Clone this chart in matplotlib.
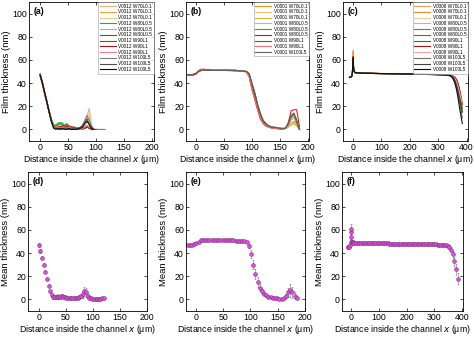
import numpy as np
import matplotlib
matplotlib.use("Agg")
import matplotlib.pyplot as plt

plt.rcParams['font.family'] = ['Liberation Sans', 'DejaVu Sans']
nan = np.nan

# ---------------- panel (a) ----------------
xa = [0, 4, 8, 12, 16, 20, 24, 28, 32, 36, 40, 44, 48, 52, 56, 60, 64, 68, 72, 76, 80, 84, 88, 92, 96, 100, 108, 116]
labels_a = ["V0012 W70L0.1", "V0012 W70L0.1", "V0012 W70L0.1",
            "V0012 W80L0.5", "V0012 W80L0.5", "V0012 W80L0.5",
            "V0012 W90L1", "V0012 W90L1", "V0012 W90L1",
            "V0012 W100L5", "V0012 W100L5", "V0012 W100L5"]
colors_a = ['#e8b27a', '#f0a040', '#f5c890', '#3aa03a', '#7ccc7c', '#1e7a3a',
            '#e02020', '#a01818', '#f08080', '#808080', '#505050', '#101010']
ya = [
    [47, 40, 32, 24, 16, 9, 3, 1, 2, 1, 3, 2, 1, 2, 1, 0, 1, 0, 1, 2, 6, 12, 18, 4, 0, 0, nan, nan],
    [48, 41, 33, 25, 17, 9, 4, 2, 3, 2, 2, 3, 2, 1, 2, 1, 0, 1, 2, 1, 3, 8, 10, 2, 0, 0, nan, nan],
    [46, 39, 31, 23, 15, 8, 3, 2, 1, 2, 1, 2, 1, 1, 0, 1, 1, 0, 0, 1, 4, 9, 14, 3, 0, nan, nan, nan],
    [47, 40, 32, 24, 16, 9, 4, 3, 5, 6, 5, 4, 5, 3, 2, 2, 1, 1, 1, 1, 2, 3, 2, 1, 0, nan, nan, nan],
    [46, 40, 31, 23, 16, 8, 4, 4, 6, 5, 6, 4, 3, 3, 2, 1, 2, 1, 0, 1, 1, 2, 1, 0, 0, nan, nan, nan],
    [47, 39, 31, 24, 15, 8, 3, 3, 4, 5, 4, 3, 4, 2, 2, 1, 1, 0, 1, 0, 1, 2, 1, 0, nan, nan, nan, nan],
    [48, 41, 32, 24, 16, 8, 2, 1, 2, 3, 2, 3, 2, 3, 2, 2, 1, 1, 2, 1, 2, 3, 2, 1, 0, nan, nan, nan],
    [47, 40, 31, 23, 15, 7, 2, 1, 1, 2, 3, 2, 2, 1, 2, 1, 1, 0, 1, 2, 1, 2, 1, 0, nan, nan, nan, nan],
    [46, 39, 31, 23, 15, 7, 2, 2, 2, 1, 2, 2, 1, 2, 1, 1, 0, 1, 0, 1, 2, 3, 2, 1, 0, nan, nan, nan],
    [47, 40, 32, 24, 16, 8, 2, 1, 1, 0, 1, 1, 0, 1, 0, 0, 1, 0, 2, 4, 8, 12, 8, 3, 0, 0, 0, 0],
    [46, 40, 31, 23, 15, 8, 2, 1, 0, 1, 0, 1, 1, 0, 0, 1, 0, 0, 1, 3, 6, 9, 5, 1, 0, 0, nan, nan],
    [47, 40, 32, 24, 15, 7, 1, 0, 1, 0, 1, 0, 0, 1, 0, 0, 0, 1, 1, 2, 5, 7, 4, 1, 0, nan, nan, nan],
]

# ---------------- panel (b) ----------------
xb = [-15, -10, -5, 0, 5, 10, 15, 20, 30, 40, 50, 60, 70, 80, 90, 95, 100, 105, 110, 115, 120,
      125, 130, 135, 140, 145, 150, 155, 160, 165, 170, 175, 180, 185]
labels_b = ["V0001 W70L0.1", "V0001 W70L0.1", "V0001 W70L0.1",
            "V0001 W80L0.5", "V0001 W80L0.5", "V0001 W80L0.5",
            "V0001 W90L1", "V0001 W90L1", "V0001 W100L5"]
colors_b = ['#e89020', '#f5c070', '#e8b040', '#90d090', '#40a040', '#1a6a2a',
            '#e02020', '#f07070', '#606060']
yb = [
    [47, 47, 47, 48, 50, 51, 51.5, 51, 51, 51, 51, 51, 51, 50.5, 50, 47, 37, 29, 19, 11, 6, 4, 3, 2, 1.5, 1, 1, 0.5, 1, 2, 5, 7, 4, 0],
    [47, 47, 47.5, 48, 50.5, 51.5, 51.5, 51, 51, 51, 51, 51, 50.5, 50.5, 49.5, 46, 35, 27, 18, 10, 6, 3, 2, 1.5, 1, 1, 0.5, 0.5, 1, 2, 4, 6, 3, 0],
    [46.5, 46.5, 47, 47.5, 50, 51, 51, 51, 51, 51, 51, 50.5, 50.5, 50.5, 50, 48, 39, 31, 21, 13, 7, 4, 3, 2, 2, 1.5, 1, 1, 1, 2, 4, 5, 3, 0],
    [47, 47, 47.5, 48, 50.5, 51.5, 51.5, 51, 51, 51, 51, 51, 51, 50.5, 50, 47, 36, 28, 19, 11, 6, 4, 2, 1, 1, 0.5, 0.5, 0, 0.5, 3, 8, 10, 5, 0],
    [47, 47, 47, 48, 50, 51, 51, 51, 51, 51, 51, 51, 50.5, 50.5, 50, 47.5, 38, 30, 20, 12, 7, 4, 3, 2, 1, 1, 0.5, 0.5, 1, 4, 10, 12, 6, 0],
    [47, 47, 47.5, 48.5, 50.5, 51.5, 51.5, 51.5, 51, 51, 51, 51, 51, 50.5, 50, 48, 39, 31, 21, 13, 7, 5, 3, 2, 1.5, 1, 1, 0.5, 1, 5, 12, 14, 7, 0],
    [47, 47, 47.5, 48.5, 51, 52, 52, 51.5, 51, 51, 51, 51, 51, 50.5, 50, 46, 35, 26, 17, 9, 5, 3, 2, 1.5, 1, 1, 0.5, 0.5, 1, 6, 16, 17, 17, 2],
    [46.5, 46.5, 47, 48, 50.5, 51.5, 51.5, 51, 51, 51, 51, 51, 50.5, 50.5, 49.5, 45, 34, 26, 17, 10, 5, 3, 2, 1, 1, 0.5, 0.5, 0.5, 1, 4, 10, 13, 8, 0],
    [47, 47, 47, 48, 50.5, 51, 51, 51, 51, 51, 51, 51, 51, 50.5, 50, 48, 40, 32, 22, 14, 8, 5, 3, 2, 2, 1.5, 1, 1, 1, 5, 11, 14, 8, 0],
]

# ---------------- panel (c) ----------------
xc = [-12, -8, -4, -2, 0, 1, 2, 4, 8, 15, 30, 50, 75, 100, 125, 150, 175, 200, 225, 250, 275, 300,
      320, 335, 345, 350, 355, 360, 365, 370, 375, 380, 385]
labels_c = ["V0008 W70L0.1", "V0008 W70L0.1", "V0008 W70L0.1",
            "V0008 W80L0.5", "V0008 W80L0.5", "V0008 W80L0.5",
            "V0008 W90L1", "V0008 W90L1", "V0008 W90L1",
            "V0008 W100L5", "V0008 W100L5", "V0008 W100L5"]
colors_c = ['#f0a050', '#f08a30', '#f8c898', '#90d090', '#3a9a3a', '#2a8a3a',
            '#e02020', '#b01010', '#f0a0a0', '#707070', '#404040', '#101010']
yc = [
    [45, 45, 46, 49, 58, 62, 52, 50, 49, 48.8, 48.6, 48.5, 48.3, 48.2, 48.1, 48, 47.9, 47.8, 47.7, 47.6, 47.5, 47.4, 47.2, 47, 46.6, 46, 45, 43, 40, 36, 31, 26, 21],
    [45, 45.5, 46.5, 50, 63, 68, 56, 51, 49.2, 49, 48.7, 48.5, 48.4, 48.2, 48.1, 48, 47.9, 47.8, 47.7, 47.6, 47.5, 47.4, 47.2, 47, 46.5, 45.8, 44.5, 42, 39, 35, 30, 25, 19],
    [44.5, 45, 46, 48, 56, 60, 52, 50, 49, 48.8, 48.6, 48.4, 48.3, 48.2, 48.1, 48, 47.9, 47.8, 47.6, 47.5, 47.4, 47.3, 47.1, 46.9, 46.5, 45.8, 44.8, 42.5, 39.5, 35.5, 31, 26, 22],
    [45, 45, 46, 48.5, 57, 61, 53, 50, 49, 48.8, 48.6, 48.5, 48.3, 48.2, 48.1, 48, 47.9, 47.7, 47.6, 47.5, 47.4, 47.3, 47, 46.7, 46, 45, 43, 40, 36, 31, 26, 21, 16],
    [45, 45, 46, 49, 58, 62, 53, 50, 49, 48.9, 48.7, 48.5, 48.3, 48.2, 48.1, 48, 47.9, 47.8, 47.7, 47.5, 47.4, 47.2, 47, 46.6, 45.8, 44.5, 42.5, 39.5, 35, 30, 25, 20, 15],
    [45, 45.5, 46, 48, 56, 60, 52, 50, 49, 48.8, 48.6, 48.5, 48.3, 48.2, 48.1, 48, 47.8, 47.7, 47.6, 47.5, 47.4, 47.2, 47, 46.8, 46.2, 45.3, 43.5, 41, 37, 32.5, 28, 23, 18],
    [45, 45, 46.5, 49, 58, 63, 54, 50, 49, 48.9, 48.7, 48.5, 48.4, 48.3, 48.2, 48.1, 48, 47.9, 47.8, 47.7, 47.6, 47.5, 47.3, 47.1, 46.8, 46.4, 45.8, 44.8, 43, 40, 35, 29, 22],
    [45, 45, 46, 48.5, 57, 61, 53, 50, 49, 48.8, 48.6, 48.5, 48.3, 48.2, 48.1, 48, 47.9, 47.8, 47.7, 47.6, 47.5, 47.4, 47.2, 47, 46.7, 46.2, 45.5, 44.3, 42.5, 39, 34, 28, 22],
    [45, 45, 46, 48, 56, 60, 52, 50, 49, 48.8, 48.6, 48.5, 48.3, 48.2, 48.1, 48, 47.9, 47.8, 47.7, 47.6, 47.5, 47.4, 47.2, 47, 46.6, 46, 45, 43.5, 41, 37, 32, 27, 23],
    [45, 45, 46, 48.5, 57, 60, 53, 50, 49, 48.8, 48.6, 48.5, 48.3, 48.2, 48.1, 48, 47.9, 47.8, 47.7, 47.5, 47.4, 47.3, 47.1, 46.8, 46.2, 45.3, 43.8, 41, 37, 31, 24, 17, 10],
    [45, 45, 46, 48, 56, 59, 52, 50, 49, 48.8, 48.6, 48.5, 48.3, 48.2, 48.1, 48, 47.9, 47.8, 47.6, 47.5, 47.4, 47.3, 47.1, 46.9, 46.4, 45.5, 44, 41.5, 38, 33, 27, 21, 15],
    [45, 45, 46, 49, 58, 62, 54, 50, 49, 48.9, 48.7, 48.5, 48.4, 48.2, 48.1, 48, 47.9, 47.8, 47.7, 47.6, 47.5, 47.3, 47.1, 46.8, 46, 44.8, 42.5, 39, 34, 27, 19, 12, 5],
]

# ---------------- panel (d) ----------------
xd = [0, 3, 6, 9, 12, 15, 18, 21, 24, 27, 30, 33, 36, 39, 42, 45, 48, 51, 54, 57, 60, 63, 66, 69,
      72, 75, 78, 81, 84, 87, 90, 93, 96, 99, 102, 105, 108, 111, 114, 117, 120]
md = [47, 42, 36, 30, 24, 18, 12, 7, 3.5, 2, 2, 2.5, 2, 2.5, 3, 2.5, 2, 1.5, 1.5, 1, 1.5, 1, 1, 1.5,
      1, 2, 3, 4.5, 7, 6, 3, 1.5, 1, 0.5, 0.5, 0.5, 0.5, 0.5, 0.5, 1, 1.5]
ed = [1.5, 1.5, 1.5, 1.5, 1.5, 1.5, 1.5, 1.5, 1.5, 1.5, 2, 2, 2, 2, 1.5, 1.5, 1.5, 1, 1, 1, 1, 1, 1, 1,
      1, 1.5, 2, 3, 4, 3.5, 2, 1, 1, 0.5, 0.5, 0.5, 0.5, 0.5, 0.5, 0.5, 1]

# ---------------- panel (e) ----------------
xe = [-15, -11, -7, -3, 1, 5, 9, 13, 17, 21, 25, 29, 33, 37, 41, 45, 49, 53, 57, 61, 65, 69, 73, 77,
      81, 85, 89, 93, 97, 101, 105, 109, 113, 117, 121, 125, 129, 133, 137, 141, 145, 149, 153, 157,
      161, 165, 169, 173, 177, 181, 185]
me = [47, 47, 47, 47.5, 48.5, 50, 51, 51.5, 51.5, 51.3, 51.2, 51.2, 51.1, 51.1, 51, 51, 51, 51, 51,
      51, 51, 51, 50.8, 50.8, 50.7, 50.6, 50.3, 49.5, 46, 39, 30, 22, 15, 10, 7, 5, 3.5, 2.5, 2, 1.5,
      1, 0.8, 0.5, 0.5, 1, 3, 6, 8, 6, 3, 1]
ee = [0.5, 0.5, 0.5, 0.5, 0.7, 0.7, 0.7, 0.5, 0.5, 0.5, 0.5, 0.5, 0.5, 0.5, 0.5, 0.5, 0.5, 0.5, 0.5,
      0.5, 0.5, 0.5, 0.5, 0.5, 0.5, 0.5, 0.7, 1, 2, 3.5, 4, 4, 4, 3, 2, 1.5, 1, 1, 1, 0.7, 0.7, 0.5,
      0.5, 0.5, 1, 2, 4, 5.5, 5, 3, 1]

# ---------------- panel (f) ----------------
xf = [-12, -9, -6, -3, -1, 0, 1, 2, 4, 6, 9, 12, 18, 24, 30, 36, 42, 48, 54, 60, 66, 72, 78, 84, 90,
      96, 102, 108, 114, 120, 126, 132, 138, 144, 150, 156, 162, 168, 174, 180, 186, 192, 198, 204,
      210, 216, 222, 228, 234, 240, 246, 252, 258, 264, 270, 276, 282, 288, 294, 300, 306, 312, 318,
      324, 330, 336, 342, 348, 354, 360, 366, 372, 378, 384]
mf = [45, 45, 45.5, 47, 50, 58, 61, 54, 50, 49.3, 49, 48.9,
      48.8, 48.8, 48.7, 48.7, 48.7, 48.6, 48.6, 48.6, 48.5, 48.5, 48.5, 48.5, 48.4, 48.4, 48.4,
      48.4, 48.3, 48.3, 48.3, 48.3, 48.2, 48.2, 48.2, 48.2, 48.1, 48.1, 48.1, 48.1, 48, 48, 48,
      48, 47.9, 47.9, 47.9, 47.9, 47.8, 47.8, 47.8, 47.8, 47.7, 47.7, 47.7, 47.6, 47.6, 47.6,
      47.5, 47.5, 47.5, 47.4, 47.3, 47.2, 47.1,
      47, 46.6, 46, 45, 43, 39, 33, 26, 18]
ef = [0.5, 0.5, 0.5, 1, 2, 3.5, 4, 2.5, 1, 0.7, 0.6, 0.6,
      0.6, 0.6, 0.6, 0.6, 0.6, 0.6, 0.6, 0.6, 0.6, 0.6, 0.6, 0.6, 0.6, 0.6, 0.6,
      0.6, 0.6, 0.6, 0.6, 0.6, 0.6, 0.6, 0.6, 0.6, 0.6, 0.6, 0.6, 0.6, 0.6, 0.6, 0.6,
      0.6, 0.6, 0.6, 0.6, 0.6, 0.6, 0.6, 0.6, 0.6, 0.6, 0.6, 0.6, 0.6, 0.6, 0.6,
      0.6, 0.6, 0.6, 0.6, 0.6, 0.6, 0.6,
      0.7, 0.8, 1, 1.5, 2, 3, 4, 4.5, 5]

top_x_ticks = {'a': [0, 50, 100, 150, 200], 'b': [0, 50, 100, 150, 200], 'c': [0, 100, 200, 300, 400]}
y_ticks = [0, 20, 40, 60, 80, 100]

W, H = 474, 337
fig = plt.figure(figsize=(W / 100, H / 100), dpi=100)


def box(l, r, t, b):
    return [l / W, 1 - b / H, (r - l) / W, (b - t) / H]


def style(ax, xlim, xticks, ylabel, letter):
    ax.set_xlim(*xlim)
    ax.set_ylim(-10, 110)
    ax.set_xticks(xticks)
    ax.set_yticks(y_ticks)
    ax.tick_params(direction='in', top=True, right=True, labelsize=6.3, length=2, width=0.5, pad=1.5)
    for s in ax.spines.values():
        s.set_linewidth(0.6)
    ax.set_xlabel("Distance inside the channel $x$ (\u03bcm)", fontsize=6.3, labelpad=0.8)
    ax.set_ylabel(ylabel, fontsize=6.8, labelpad=0.5)
    ax.text(0.035, 0.965, letter, transform=ax.transAxes, fontsize=6.3, fontweight='bold',
            va='top', ha='left')


def top_panel(ax, xs, ys, labels, colors):
    for y, lab, c in zip(ys, labels, colors):
        ax.plot(xs, y, color=c, lw=0.8, label=lab)
    leg = ax.legend(loc='upper right', fontsize=3.4, frameon=True, fancybox=False,
                    borderaxespad=0.0, handlelength=3.4, labelspacing=0.16, borderpad=0.35,
                    handletextpad=0.5)
    leg.get_frame().set_linewidth(0.4)
    leg.get_frame().set_edgecolor('#888888')


def bottom_panel(ax, xs, m, e):
    ax.errorbar(xs, m, yerr=e, fmt='o', ms=2.7, mfc='#e050e0', mec='#7a2a7a', mew=0.4,
                ecolor='#777777', elinewidth=0.4, capsize=0.9, capthick=0.4)


ax_a = fig.add_axes(box(29, 154, 2, 141))
top_panel(ax_a, xa, ya, labels_a, colors_a)
style(ax_a, (-20, 204), top_x_ticks['a'], "Film thickness (nm)", "(a)")

ax_b = fig.add_axes(box(186, 309, 2, 141))
top_panel(ax_b, xb, yb, labels_b, colors_b)
style(ax_b, (-18, 202), top_x_ticks['b'], "Film thickness (nm)", "(b)")

ax_c = fig.add_axes(box(343, 468, 2, 141))
top_panel(ax_c, xc, yc, labels_c, colors_c)
style(ax_c, (-35, 405), top_x_ticks['c'], "Film thickness (nm)", "(c)")

ax_d = fig.add_axes(box(28, 147, 172, 311))
bottom_panel(ax_d, xd, md, ed)
style(ax_d, (-20, 200), [0, 50, 100, 150, 200], "Mean thickness (nm)", "(d)")

ax_e = fig.add_axes(box(186, 305, 172, 311))
bottom_panel(ax_e, xe, me, ee)
style(ax_e, (-18, 198), [0, 50, 100, 150, 200], "Mean thickness (nm)", "(e)")

ax_f = fig.add_axes(box(342, 463, 172, 311))
bottom_panel(ax_f, xf, mf, ef)
style(ax_f, (-32, 403), [0, 100, 200, 300, 400], "Mean thickness (nm)", "(f)")

fig.savefig("out.png", dpi=100, facecolor='white')
